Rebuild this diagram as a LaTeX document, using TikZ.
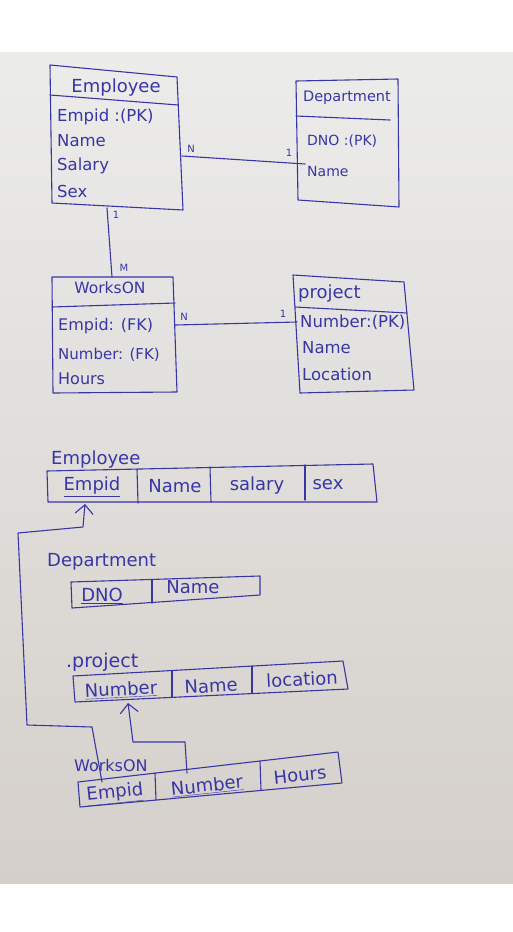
\documentclass[tikz,border=0pt]{standalone}
\usepackage{fontspec}
\setmainfont{DejaVu Sans}
\usetikzlibrary{arrows.meta}

\definecolor{inkblue}{RGB}{56,54,165}
\definecolor{papertop}{RGB}{236,236,235}
\definecolor{papermid}{RGB}{232,231,230}
\definecolor{paperbot}{RGB}{212,207,202}

\begin{document}
\begin{tikzpicture}[x=1pt, y=-1pt,
    ink/.style={draw=inkblue, line width=1.1pt, line join=round, line cap=round},
    erhead/.style={text=inkblue, font=\fontsize{18}{20}\selectfont, inner sep=0pt},
    erattr/.style={text=inkblue, font=\fontsize{16.5}{18}\selectfont, inner sep=0pt, anchor=west},
    card/.style={text=inkblue, font=\fontsize{10}{12}\selectfont, inner sep=0pt},
    rellabel/.style={text=inkblue, font=\fontsize{18}{20}\selectfont, inner sep=0pt, anchor=west},
    cell/.style={text=inkblue, font=\fontsize{18}{20}\selectfont, inner sep=0pt}]

        % Paper
        \useasboundingbox (0,0) rectangle (513,932);
        \fill[white] (0,0) rectangle (513,932);
        \shade[top color=papertop, middle color=papermid, bottom color=paperbot] (0,52) rectangle (513,883);

        % Define the entities
        \draw[ink] (50,65) -- (177,77) -- (183,210) -- (52,203) -- cycle;
        \draw[ink] (50,95) -- (178,105);
        \node[erhead] (emp) at (116,88) {Employee};
        \node[erattr] (emp-id) at (57,117) {Empid :(PK)};
        \node[erattr] (emp-name) at (57,141) {Name};
        \node[erattr] (emp-sal) at (57,166) {Salary};
        \node[erattr] (emp-sex) at (57,191) {Sex};

        \draw[ink] (296,81) -- (398,79) -- (399,207) -- (298,200) -- cycle;
        \draw[ink] (296,116) -- (390,120);
        \node[erhead, font=\fontsize{14.5}{16}\selectfont] (dept) at (347,98) {Department};
        \node[erattr, font=\fontsize{14}{16}\selectfont] (dept-no) at (307,141) {DNO :(PK)};
        \node[erattr, font=\fontsize{14}{16}\selectfont] (dept-name) at (307,171) {Name};

        \draw[ink] (52,277) -- (173,277) -- (177,392) -- (53,393) -- cycle;
        \draw[ink] (52,307) -- (175,303);
        \node[erhead, font=\fontsize{15.5}{17}\selectfont] (works) at (110,288) {WorksON};
        \node[erattr, font=\fontsize{16}{18}\selectfont] (works-id) at (58,326) {Empid: (FK)};
        \node[erattr, font=\fontsize{15}{17}\selectfont] (works-num) at (58,355) {Number: (FK)};
        \node[erattr, font=\fontsize{16}{18}\selectfont] (works-hrs) at (58,379) {Hours};

        \draw[ink] (293,275) -- (404,282) -- (414,390) -- (300,393) -- cycle;
        \draw[ink] (295,307) -- (407,313);
        \node[erhead, anchor=west] (proj) at (298,294) {project};
        \node[erattr] (proj-num) at (300,322) {Number:(PK)};
        \node[erattr] (proj-name) at (302,348) {Name};
        \node[erattr] (proj-loc) at (302,374) {Location};

        % Define the relationships
        \coordinate (emp-e) at (182,156);
        \coordinate (dept-w) at (305,164);
        \coordinate (emp-s) at (107,208);
        \coordinate (works-n) at (112,277);
        \coordinate (works-e) at (175,325);
        \coordinate (proj-w) at (297,322);
        \draw[ink] (emp-e) -- (dept-w);
        \draw[ink] (emp-s) -- (works-n);
        \draw[ink] (works-e) -- (proj-w);
        \node[card] (c1) at (191,149) {N};
        \node[card] (c2) at (289,153) {1};
        \node[card] (c3) at (116,215) {1};
        \node[card] (c4) at (124,268) {M};
        \node[card] (c5) at (184,317) {N};
        \node[card] (c6) at (283,314) {1};

        % Relational schema
        \node[rellabel] (r-emp) at (51,460) {Employee};
        \draw[ink] (47,471) -- (373,464) -- (377,502) -- (48,502) -- cycle;
        \draw[ink] (137,469) -- (138,503);
        \draw[ink] (210,467) -- (211,502);
        \draw[ink] (305,465) -- (305,500);
        \node[cell] (re-id) at (92,487) {\underline{Empid}};
        \node[cell] (re-name) at (175,486) {Name};
        \node[cell] (re-sal) at (257,486) {salary};
        \node[cell] (re-sex) at (328,485) {sex};

        \node[rellabel] (r-dept) at (47,562) {Department};
        \draw[ink] (71,582) -- (260,576) -- (260,595) -- (72,608) -- cycle;
        \draw[ink] (152,580) -- (152,603);
        \node[cell] (rd-no) at (102,596) {\underline{DNO}};
        \node[cell] (rd-name) at (193,587) {Name};

        \node[rellabel, font=\fontsize{19}{21}\selectfont] (r-proj) at (66,662) {.project};
        \draw[ink] (73,676) -- (343,661) -- (348,689) -- (75,702) -- cycle;
        \draw[ink] (172,671) -- (172,697);
        \draw[ink] (252,666) -- (252,693);
        \node[cell, rotate=3] (rp-num) at (121,690) {\underline{Number}};
        \node[cell, rotate=3] (rp-name) at (211,686) {Name};
        \node[cell, rotate=3] (rp-loc) at (302,679) {location};

        \node[rellabel, font=\fontsize{16}{18}\selectfont] (r-works) at (74,766) {WorksON};
        \draw[ink] (78,782) -- (338,752) -- (342,783) -- (80,807) -- cycle;
        \draw[ink] (155,773) -- (156,800);
        \draw[ink] (260,761) -- (261,790);
        \node[cell, rotate=6] (rw-id) at (115,794) {\underline{Empid}};
        \node[cell, rotate=6] (rw-num) at (207,786) {\underline{Number}};
        \node[cell, rotate=6] (rw-hrs) at (300,775) {Hours};

        % Foreign keys
        \coordinate (fk-id) at (102,782);
        \coordinate (pk-id) at (85,504);
        \coordinate (fk-num) at (187,773);
        \coordinate (pk-num) at (128,703);
        \draw[ink, -{Straight Barb[length=9pt, width=18pt]}] (fk-id) -- (92,727) -- (27,725) -- (18,533) -- (83,527) -- (pk-id);
        \draw[ink, -{Straight Barb[length=9pt, width=18pt]}] (fk-num) -- (185,742) -- (133,742) -- (pk-num);

    \end{tikzpicture}
\end{document}
